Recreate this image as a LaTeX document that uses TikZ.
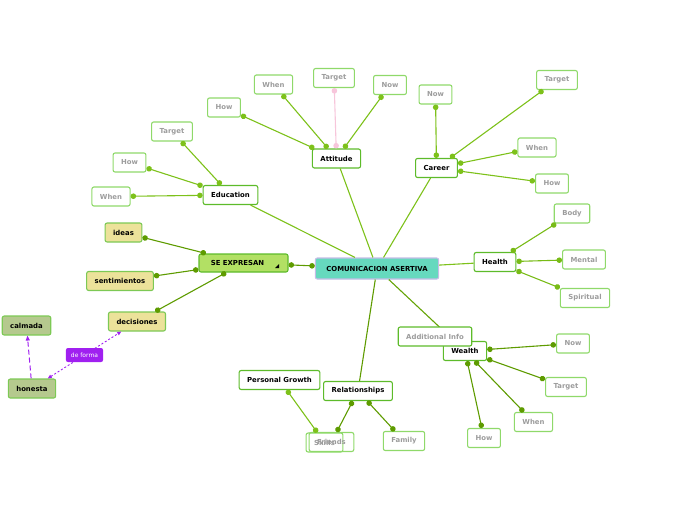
\documentclass[tikz,border=0pt]{standalone}
\usepackage{fontspec}
\setmainfont{DejaVu Sans}
\usetikzlibrary{arrows.meta}
\definecolor{cen}{HTML}{66D9BE}
\definecolor{cenb}{HTML}{C4BCE6}
\definecolor{grn}{HTML}{5DBB2A}
\definecolor{lgrn}{HTML}{8FD96A}
\definecolor{lime}{HTML}{7DC11A}
\definecolor{olv}{HTML}{5E9B00}
\definecolor{sexf}{HTML}{B2E064}
\definecolor{khk}{HTML}{ECE29A}
\definecolor{olf}{HTML}{B5C98E}
\definecolor{pur}{HTML}{A020F0}
\definecolor{pnk}{HTML}{F7C6DB}
\definecolor{gtxt}{HTML}{9C9C9C}
\tikzset{
  box/.style={draw=grn,line width=1.1pt,rounded corners=2pt,fill=white,align=center,
    inner xsep=8pt,inner ysep=2pt,minimum height=19pt,font=\fontsize{6.9}{8}\selectfont\bfseries},
  sub/.style={box,draw=lgrn,fill=none,text=gtxt},
  kbox/.style={box,draw=grn!80,fill=khk},
  obox/.style={box,draw=grn!80,fill=olf},
  lnk/.style={arrows={Circle[length=5.5pt,width=5.5pt]-Circle[length=5.5pt,width=5.5pt]},line width=1.1pt,draw=lime},
  dlnk/.style={lnk,draw=olv},
}

\begin{document}
\begin{tikzpicture}[x=1pt,y=-1pt]
\useasboundingbox (0,0) rectangle (697,520);
\node[box,draw=cenb,fill=cen,minimum height=21pt,inner xsep=11pt] (cen) at (377,268.5) {COMUNICACION ASERTIVA};
\node[box,fill=sexf,minimum width=89pt,minimum height=18pt] (sex) at (243.5,263) {SE EXPRESAN\hspace{12pt}};
\fill (275,268) -- (279,268) -- (279,264) -- cycle;
\node[kbox] (ideas) at (123.5,232.5) {ideas};
\node[kbox] (sent) at (120,281) {sentimientos};
\node[kbox] (dec) at (137,321.5) {decisiones};
\node[obox] (calm) at (26.5,325.5) {calmada};
\node[obox] (hon) at (32,388.5) {honesta};
% topics
\node[box] (edu) at (230.5,195) {Education};
\node[box] (att) at (336.5,158.5) {Attitude};
\node[box] (car) at (436.5,168) {Career};
\node[box] (hea) at (495,262) {Health};
\node[box] (wea) at (465,351) {Wealth};
\node[box] (pg) at (279.5,380) {Personal Growth};
\node[box] (rel) at (358,391) {Relationships};
% subtopics
\node[sub] (etgt) at (172,131.5) {Target};
\node[sub] (ehow) at (129.5,162.5) {How};
\node[sub] (ewhen) at (111,196.5) {When};
\node[sub] (ahow) at (224,107.5) {How};
\node[sub] (awhen) at (273.5,84.5) {When};
\node[sub] (atgt) at (334,78) {Target};
\node[sub] (anow) at (390,85) {Now};
\node[sub] (cnow) at (435.5,94.5) {Now};
\node[sub] (ctgt) at (557,80) {Target};
\node[sub] (cwhen) at (537,147.5) {When};
\node[sub] (chow) at (552,183.5) {How};
\node[sub] (hbody) at (572,213.5) {Body};
\node[sub] (hment) at (584,259.5) {Mental};
\node[sub] (hspir) at (585,298) {Spiritual};
\node[sub] (wnow) at (573,343.5) {Now};
\node[sub] (wtgt) at (566,387) {Target};
\node[sub] (wwhen) at (533.5,422) {When};
\node[sub] (whow) at (484,438) {How};
\node[sub] (skl) at (324.5,442.5) {Skills};
\node[sub] (frnd) at (331.5,442) {Friends};
\node[sub] (fam) at (404,441) {Family};
% connectors
\draw[dlnk] (sex) -- (cen);
\draw[dlnk] (ideas) -- (sex);
\draw[dlnk] (sent) -- (sex);
\draw[dlnk] (dec) -- (sex);
\draw[lime,line width=1.1pt] (edu) -- (cen);
\draw[lime,line width=1.1pt] (att) -- (cen);
\draw[lime,line width=1.1pt] (car) -- (cen);
\draw[lime,line width=1.1pt] (hea) -- (cen);
\draw[olv!80!lime,line width=1.1pt] (wea) -- (cen);
\draw[olv,line width=1.1pt] (rel) -- (cen);
\draw[lnk] (etgt) -- (edu);
\draw[lnk] (ehow) -- (edu);
\draw[lnk] (ewhen) -- (edu);
\draw[lnk] (ahow) -- (att);
\draw[lnk] (awhen) -- (att);
\draw[lnk,draw=pnk] (atgt) -- (att);
\draw[lnk] (anow) -- (att);
\draw[lnk] (cnow) -- (car);
\draw[lnk] (ctgt) -- (car);
\draw[lnk] (cwhen) -- (car);
\draw[lnk] (chow) -- (car);
\draw[lnk,draw=lime!85!olv] (hbody) -- (hea);
\draw[lnk,draw=lime!85!olv] (hment) -- (hea);
\draw[lnk,draw=lime!85!olv] (hspir) -- (hea);
\draw[dlnk] (wnow) -- (wea);
\draw[dlnk] (wtgt) -- (wea);
\draw[dlnk] (wwhen) -- (wea);
\draw[dlnk] (whow) -- (wea);
\draw[lnk] (skl) -- (pg);
\draw[dlnk] (frnd) -- (rel);
\draw[dlnk] (fam) -- (rel);
\node[sub,draw=grn,fill=white] (info) at (435,336.5) {Additional Info};
\draw[pur,line width=1pt,dash pattern=on 5pt off 3pt,-{Triangle[length=5pt,width=4pt]}] (hon) -- (calm);
\draw[pur,line width=0.9pt,dash pattern=on 2pt off 2pt,{Triangle[length=4pt,width=3.5pt]}-{Triangle[length=4pt,width=3.5pt]}]
  (hon) -- node[fill=pur,text=white,rounded corners=2pt,inner xsep=5pt,minimum height=14pt,font=\fontsize{6}{7}\selectfont] (forma) {de forma} (dec);
\end{tikzpicture}
\end{document}
